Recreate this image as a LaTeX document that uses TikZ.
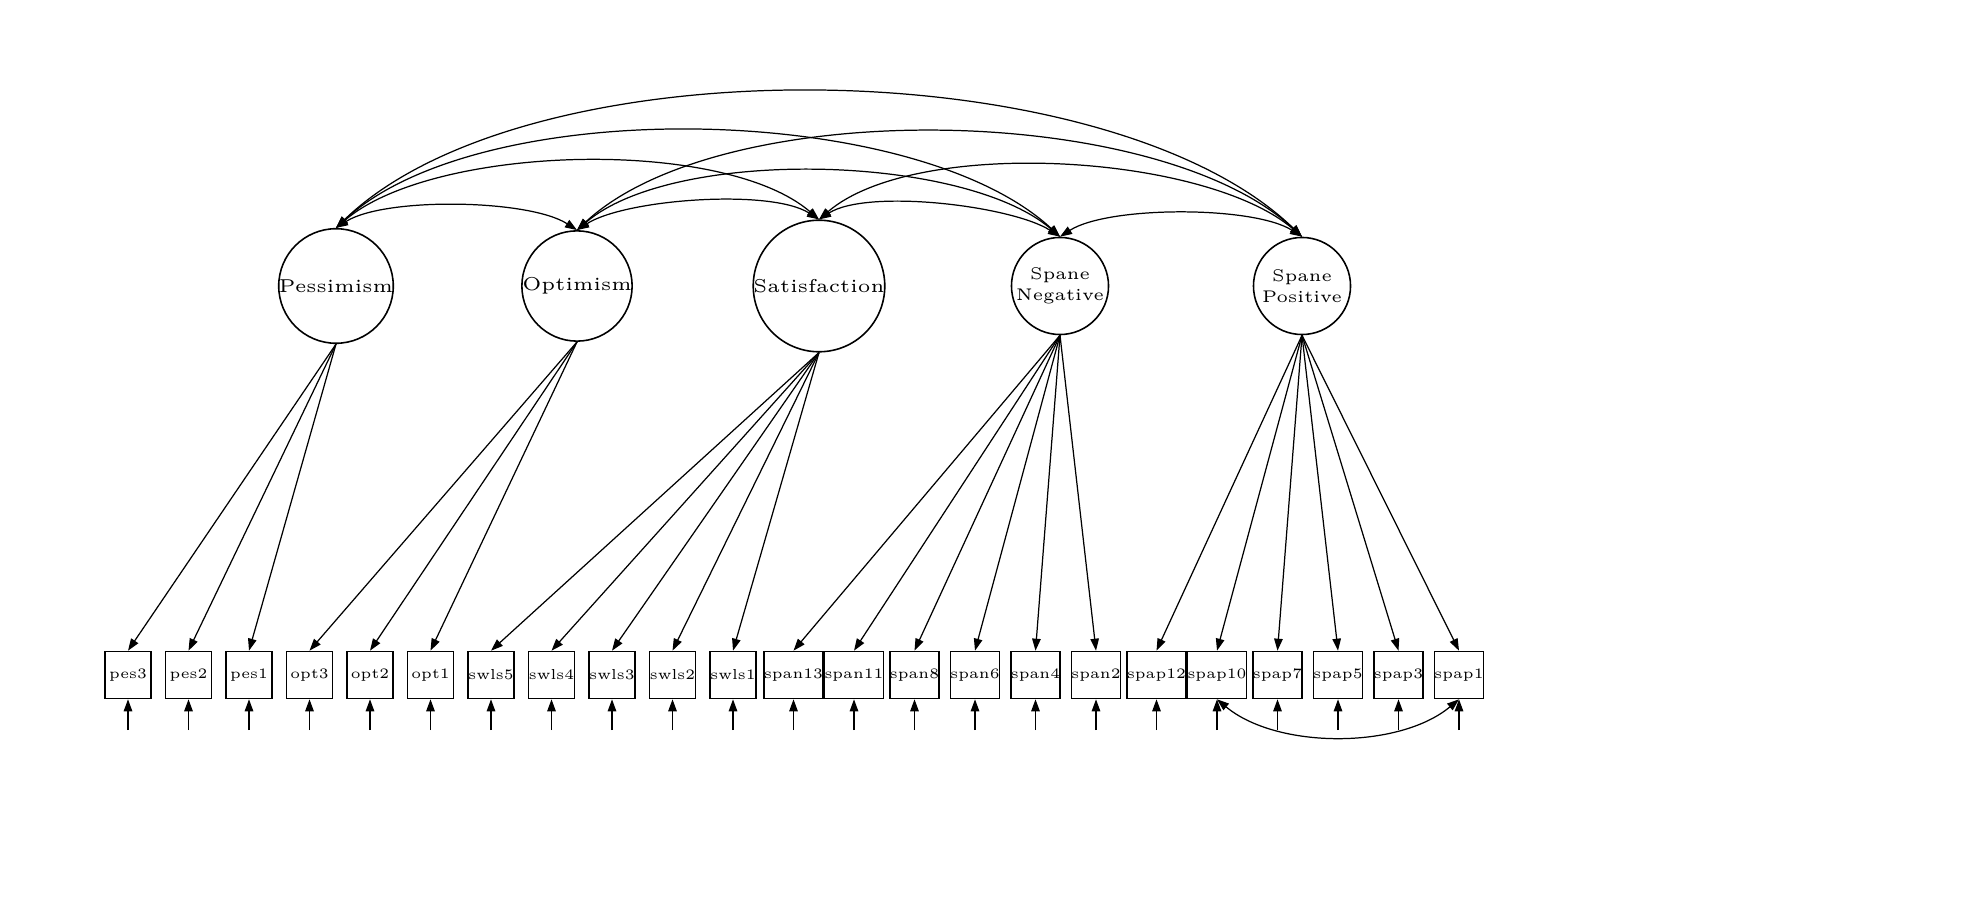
\documentclass[tikz,border=0pt]{standalone}
\usetikzlibrary{arrows.meta}
\begin{document}
\begin{tikzpicture}[x=0.01cm,y=-0.01cm,
  lat/.style={circle,draw,line width=0.45pt,minimum size=0.97cm,inner sep=0pt,align=center,font=\fontsize{5.3}{6}\selectfont},
  obs/.style={rectangle,draw,line width=0.45pt,minimum width=0.46cm,minimum height=0.47cm,inner sep=0pt,font=\fontsize{4.1}{5}\selectfont},
  arr/.style={-{Triangle[length=0.12cm,width=0.085cm]},line width=0.35pt},
  darr/.style={{Triangle[length=0.12cm,width=0.085cm]}-{Triangle[length=0.12cm,width=0.085cm]},line width=0.35pt}]
\useasboundingbox (0,0) rectangle (1967,919);
\node[lat] (L1) at (336,286) {Pessimism};
\node[lat] (L2) at (577,286) {Optimism};
\node[lat] (L3) at (819,286) {Satisfaction};
\node[lat] (L4) at (1060,286) {\fontsize{4.8}{6.5}\selectfont Spane\\\fontsize{4.8}{6.5}\selectfont Negative};
\node[lat] (L5) at (1302,286) {\fontsize{4.8}{6.5}\selectfont Spane\\\fontsize{4.8}{6.5}\selectfont Positive};
\foreach \lab [count=\i] in {pes3,pes2,pes1,opt3,opt2,opt1,swls5,swls4,swls3,swls2,swls1,span13,span11,span8,span6,span4,span2,spap12,spap10,spap7,spap5,spap3,spap1}{
  \node[obs] (b\i) at ({128+60.5*(\i-1)},675) {\lab};
  \coordinate (e\i) at ({128+60.5*(\i-1)},730);
  \draw[arr] (e\i) -- (b\i.south);
}
\foreach \i in {1,2,3} \draw[arr] (L1.south) -- (b\i.north);
\foreach \i in {4,5,6} \draw[arr] (L2.south) -- (b\i.north);
\foreach \i in {7,...,11} \draw[arr] (L3.south) -- (b\i.north);
\foreach \i in {12,...,17} \draw[arr] (L4.south) -- (b\i.north);
\foreach \i in {18,...,23} \draw[arr] (L5.south) -- (b\i.north);
% covariances
\foreach \a/\b/\k in {1/2/31,2/3/31,3/4/31,4/5/31,1/3/83,2/4/83,3/5/83,1/4/135,2/5/135,1/5/187}{
  \draw[darr] (L\a.north) .. controls ++({48.3*(\b-\a)},-\k) and ([shift={({-48.3*(\b-\a)},-\k)}]L\b.north) .. (L\b.north);
}
\draw[darr] (b19.south) .. controls ++(60,50) and ([shift={(-60,50)}]b23.south) .. (b23.south);
\end{tikzpicture}
\end{document}
